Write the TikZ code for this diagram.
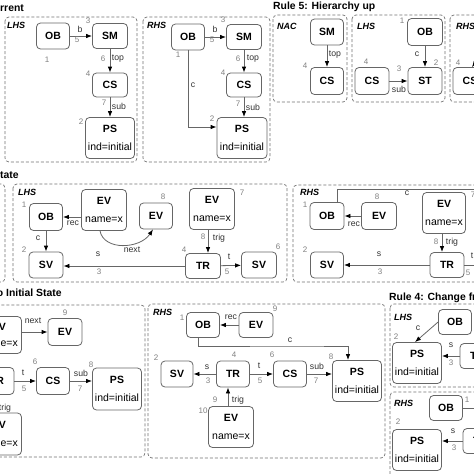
\documentclass[tikz,border=0pt]{standalone}
\usepackage{fontspec}
\setmainfont{Liberation Sans}
\usetikzlibrary{arrows.meta}
\begin{document}
\begin{tikzpicture}[x=1pt,y=-1pt,
 nd/.style 2 args={draw=black!60,line width=0.8pt,rounded corners=4pt,fill=white,inner sep=1pt,align=center,font=\bfseries\fontsize{10.5}{12}\selectfont,minimum width=#1pt,minimum height=#2pt},
 rulebox/.style={draw=black!55,line width=0.7pt,dash pattern=on 3pt off 2pt,rounded corners=4pt},
 num/.style={text=black!50,font=\fontsize{8}{9}\selectfont,inner sep=0pt},
 elab/.style={text=black!80,font=\fontsize{8.7}{10}\selectfont,inner sep=0pt},
 arr/.style={draw=black!60,line width=0.8pt,-{Latex[length=6pt,width=4.5pt,color=black]}},
 ln/.style={draw=black!60,line width=0.8pt},
 hdr/.style={font=\bfseries\fontsize{10.4}{12}\selectfont,inner sep=0pt,anchor=west},
 flab/.style={font=\bfseries\itshape\fontsize{9}{11}\selectfont,inner sep=0pt,anchor=west}
]
\useasboundingbox (0,0) rectangle (474,474);
\clip (0,0) rectangle (474,474);
\fill[white] (0,0) rectangle (474,474);

% ---------------- Row 1 ----------------
\node[hdr] (h1) at (0,8) {rrent};
\draw[rulebox] (5,17) rectangle (137,162);
\node[flab] (fl1) at (7,25) {LHS};
\node[nd={33}{26}] (a1) at (53,36) {OB};
\node[nd={35}{25}] (a2) at (110,36) {SM};
\node[nd={35}{24}] (a3) at (110,85) {CS};
\node[nd={49}{41}] (a4) at (110,138) {PS\\[6pt]\mdseries ind=initial};
\draw[arr] (a1) -- (a2);
\draw[arr] (a2) -- (a3);
\draw[arr] (a3) -- (a4);
\node[elab] (la1) at (80,29) {b};
\node[num] (na1) at (77,40) {5};
\node[num] (na2) at (103,59) {6};
\node[elab] (la2) at (118,59) {top};
\node[num] (na3) at (104,103) {7};
\node[elab] (la3) at (119,106) {sub};
\node[num] (na4) at (47,60) {1};
\node[num] (na5) at (88,21) {3};
\node[num] (na6) at (88,74) {4};
\node[num] (na7) at (81,122) {2};

\draw[rulebox] (143,17) rectangle (270,162);
\node[flab] (fl2) at (147,25) {RHS};
\node[nd={33}{26}] (b1) at (188,37) {OB};
\node[nd={35}{25}] (b2) at (244,37) {SM};
\node[nd={35}{24}] (b3) at (244,85) {CS};
\node[nd={50}{41}] (b4) at (242,138) {PS\\[6pt]\mdseries ind=initial};
\draw[arr] (b1) -- (b2);
\draw[arr] (b2) -- (b3);
\draw[arr] (b3.south) -- (b3.south |- b4.north);
\draw[arr] (b1.south) |- ([yshift=11pt]b4.west);
\node[elab] (lb1) at (215,29) {b};
\node[num] (nb1) at (212,40) {5};
\node[num] (nb2) at (223,20) {3};
\node[num] (nb3) at (178,55) {1};
\node[num] (nb4) at (223,73) {4};
\node[num] (nb5) at (238,59) {6};
\node[elab] (lb2) at (253,59) {top};
\node[num] (nb6) at (212,119) {2};
\node[num] (nb7) at (238,104) {7};
\node[elab] (lb3) at (253,107) {sub};
\node[elab] (lb4) at (193,85) {c};

\node[hdr] (h2) at (273,7) {Rule 5: Hierarchy up};
\draw[rulebox] (273,15) rectangle (347,102);
\node[flab] (fl3) at (277,26) {NAC};
\node[nd={33}{26}] (c1) at (327,32) {SM};
\node[nd={33}{27}] (c2) at (327,81) {CS};
\draw[arr] (c1) -- (c2);
\node[elab] (lc1) at (335,55) {top};
\node[num] (nc1) at (305,66) {4};

\draw[rulebox] (352,15) rectangle (445,102);
\node[flab] (fl4) at (357,26) {LHS};
\node[nd={35}{27}] (d1) at (425,32) {OB};
\node[nd={34}{27}] (d2) at (425,81) {ST};
\node[nd={34}{27}] (d3) at (372,81) {CS};
\draw[arr] (d1) -- (d2);
\draw[arr] (d3) -- (d2);
\node[elab] (ld1) at (417,54) {c};
\node[elab] (ld2) at (399,89) {sub};
\node[num] (nd1) at (399,69) {3};
\node[num] (nd2) at (402,21) {1};
\node[num] (nd3) at (436,63) {2};
\node[num] (nd4) at (366,62) {4};

\draw[rulebox] (450,15) rectangle (560,102);
\node[flab] (fl5) at (456,26) {RHS};
\node[nd={34}{27}] (e1) at (470,81) {CS};
\coordinate (e0) at (486,48);
\draw[arr] (e0) -- ([xshift=2pt]e1.north);
\node[num] (ne1) at (458,63) {4};

% ---------------- Row 2 ----------------
\node[hdr] (h3) at (0,175) {tate};
\draw[rulebox] (-100,184) rectangle (5,282);
\draw[rulebox] (13,184) rectangle (287,282);
\node[flab] (fl6) at (18,192) {LHS};
\node[nd={33}{27}] (f1) at (46,217) {OB};
\node[nd={45}{41}] (f2) at (104,210) {EV\\[6pt]\mdseries name=x};
\node[nd={33}{26}] (f3) at (156,216) {EV};
\node[nd={34}{26}] (f4) at (46,265) {SV};
\node[nd={45}{41}] (f5) at (212,209) {EV\\[6pt]\mdseries name=x};
\node[nd={35}{25}] (f6) at (203,266) {TR};
\node[nd={35}{26}] (f7) at (259,265) {SV};
\draw[arr] (f2.west |- f1.east) -- (f1.east);
\draw[arr] ([xshift=-4pt]f2.south) .. controls (104,251) and (140,249) .. ([xshift=-3pt]f3.south);
\draw[arr] (f1) -- (f4);
\draw[arr] (f6.west) -- (f6.west -| f4.east);
\draw[arr] ([xshift=-4pt]f5.south) -- ([xshift=-4pt]f5.south |- f6.north);
\draw[arr] (f6) -- (f7);
\node[elab] (lf1) at (73,223) {rec};
\node[elab] (lf2) at (132,250) {next};
\node[elab] (lf3) at (38,238) {c};
\node[elab] (lf4) at (98,254) {s};
\node[num] (nf1) at (99,272) {3};
\node[num] (nf2) at (203,237) {8};
\node[elab] (lf5) at (219,238) {trig};
\node[elab] (lf6) at (229,257) {t};
\node[num] (nf3) at (227,272) {5};
\node[num] (nf4) at (24,205) {1};
\node[num] (nf5) at (163,197) {8};
\node[num] (nf6) at (24,250) {2};
\node[num] (nf7) at (242,193) {7};
\node[num] (nf8) at (184,250) {4};
\node[num] (nf9) at (278,247) {6};

\draw[rulebox] (293,185) rectangle (560,282);
\node[flab] (fl7) at (300,192) {RHS};
\node[nd={34}{27}] (g1) at (327,216) {OB};
\node[nd={35}{27}] (g2) at (379,216) {EV};
\node[nd={43}{41}] (g3) at (444,213) {EV\\[6pt]\mdseries name=x};
\node[nd={34}{25}] (g4) at (447,265) {TR};
\node[nd={33}{26}] (g5) at (327,265) {SV};
\coordinate (gc) at (560,189);
\coordinate (gt) at (520,265);
\draw[arr] (g2) -- (g1);
\draw[ln] ([xshift=10pt]g1.north) |- (gc);
\draw[arr] ([xshift=-2pt]g3.south) -- ([xshift=-2pt]g3.south |- g4.north);
\draw[arr] (g4) -- (g5);
\draw[arr] (g4) -- (gt);
\node[elab] (lg1) at (354,224) {rec};
\node[elab] (lg2) at (407,193) {c};
\node[num] (ng1) at (436,242) {8};
\node[elab] (lg3) at (452,242) {trig};
\node[elab] (lg4) at (379,254) {s};
\node[num] (ng2) at (380,272) {3};
\node[elab] (lg5) at (472,256) {t};
\node[num] (ng3) at (468,273) {5};
\node[num] (ng4) at (305,205) {1};
\node[num] (ng5) at (377,197) {8};
\node[num] (ng6) at (305,250) {2};
\node[num] (ng7) at (473,195) {7};

% ---------------- Row 3 ----------------
\node[hdr] (h4) at (-3.3,293) {o Initial State};
\draw[rulebox] (-100,305) rectangle (145,457);
\node[nd={45}{37}] (p1) at (-1,335) {EV\\[4pt]\mdseries name=x};
\node[nd={34}{27}] (p2) at (65,332) {EV};
\node[nd={34}{27}] (p3) at (-3,381) {TR};
\node[nd={33}{27}] (p4) at (53,381) {CS};
\node[nd={49}{42}] (p5) at (117,389) {PS\\[6pt]\mdseries ind=initial};
\node[nd={45}{42}] (p6) at (-1,434) {EV\\[6pt]\mdseries name=x};
\draw[arr] (p1.east |- p2.west) -- (p2.west);
\draw[arr] (p3) -- (p4);
\draw[arr] (p4.east) -- (p4.east -| p5.west);
\draw[arr] ([xshift=-4pt]p6.north) -- ([xshift=-4pt]p6.north |- p3.south);
\node[elab] (lp1) at (33,321) {next};
\node[elab] (lp2) at (23,373) {t};
\node[num] (np1) at (24,389) {5};
\node[elab] (lp3) at (81,373) {sub};
\node[num] (np2) at (80,389) {7};
\node[elab] (lp4) at (5,408) {trig};
\node[num] (np3) at (65,313) {9};
\node[num] (np4) at (35,362) {6};
\node[num] (np5) at (91,365) {8};

\draw[rulebox] (148,304) rectangle (385,458);
\node[flab] (fl8) at (153,312) {RHS};
\node[nd={33}{25}] (q1) at (203,325) {OB};
\node[nd={34}{25}] (q2) at (256,325) {EV};
\node[nd={32}{26}] (q3) at (177,374) {SV};
\node[nd={33}{26}] (q4) at (233,374) {TR};
\node[nd={33}{26}] (q5) at (290,374) {CS};
\node[nd={49}{41}] (q6) at (357,381) {PS\\[6pt]\mdseries ind=initial};
\node[nd={45}{41}] (q7) at (231,427) {EV\\[6pt]\mdseries name=x};
\coordinate (qcb) at (300,346);
\draw[arr] (q2) -- (q1);
\draw[arr] ([xshift=-5pt]q1.south) |- (qcb) -| ([xshift=-9pt]q6.north);
\draw[arr] (q4) -- (q3);
\draw[arr] (q4) -- (q5);
\draw[arr] (q5.east) -- (q5.east -| q6.west);
\draw[arr] ([xshift=-3pt]q7.north) -- ([xshift=-3pt]q7.north |- q4.south);
\node[elab] (lq1) at (231,317) {rec};
\node[elab] (lq2) at (290,340) {c};
\node[elab] (lq3) at (207,367) {s};
\node[num] (nq1) at (208,381) {3};
\node[elab] (lq4) at (259,366) {t};
\node[num] (nq2) at (260,381) {5};
\node[elab] (lq5) at (317,366) {sub};
\node[num] (nq3) at (316,381) {7};
\node[num] (nq4) at (215,400) {9};
\node[elab] (lq6) at (238,400) {trig};
\node[num] (nq5) at (182,318) {1};
\node[num] (nq6) at (275,309) {9};
\node[num] (nq7) at (156,358) {2};
\node[num] (nq8) at (234,355) {4};
\node[num] (nq9) at (272,355) {6};
\node[num] (nq10) at (331,357) {8};
\node[num] (nq11) at (203,411) {10};

\node[hdr] (h5) at (389,298) {Rule 4: Change fr};
\draw[rulebox] (390,304) rectangle (560,387);
\node[flab] (fl9) at (394,317) {LHS};
\node[nd={33}{25}] (r1) at (455,322) {OB};
\node[nd={49}{41}] (r2) at (417,363) {PS\\[6pt]\mdseries ind=initial};
\node[nd={34}{25}] (r3) at (477,356) {TR};
\draw[arr] (r1.west) -- ([xshift=-2pt]r2.north);
\draw[arr] (r3.west) -- (r3.west -| r2.east);
\node[elab] (lr1) at (418,328) {c};
\node[elab] (lr2) at (451,345) {s};
\node[num] (nr1) at (451,363) {3};
\node[num] (nr2) at (396,337) {2};

\draw[rulebox] (390,392) rectangle (560,520);
\node[flab] (fl10) at (394,403) {RHS};
\node[nd={33}{25}] (s1) at (446,408) {OB};
\node[nd={49}{41}] (s2) at (417,450) {PS\\[6pt]\mdseries ind=initial};
\node[nd={34}{25}] (s3) at (480,441) {TR};
\coordinate (sc) at (520,408);
\draw[ln] (s1.east) -- (sc);
\draw[arr] (s3.west) -- (s3.west -| s2.east);
\node[elab] (ls1) at (453,431) {s};
\node[num] (ns1) at (454,448) {3};
\node[num] (ns2) at (467,400) {1};
\node[num] (ns3) at (398,422) {2};
\end{tikzpicture}
\end{document}
